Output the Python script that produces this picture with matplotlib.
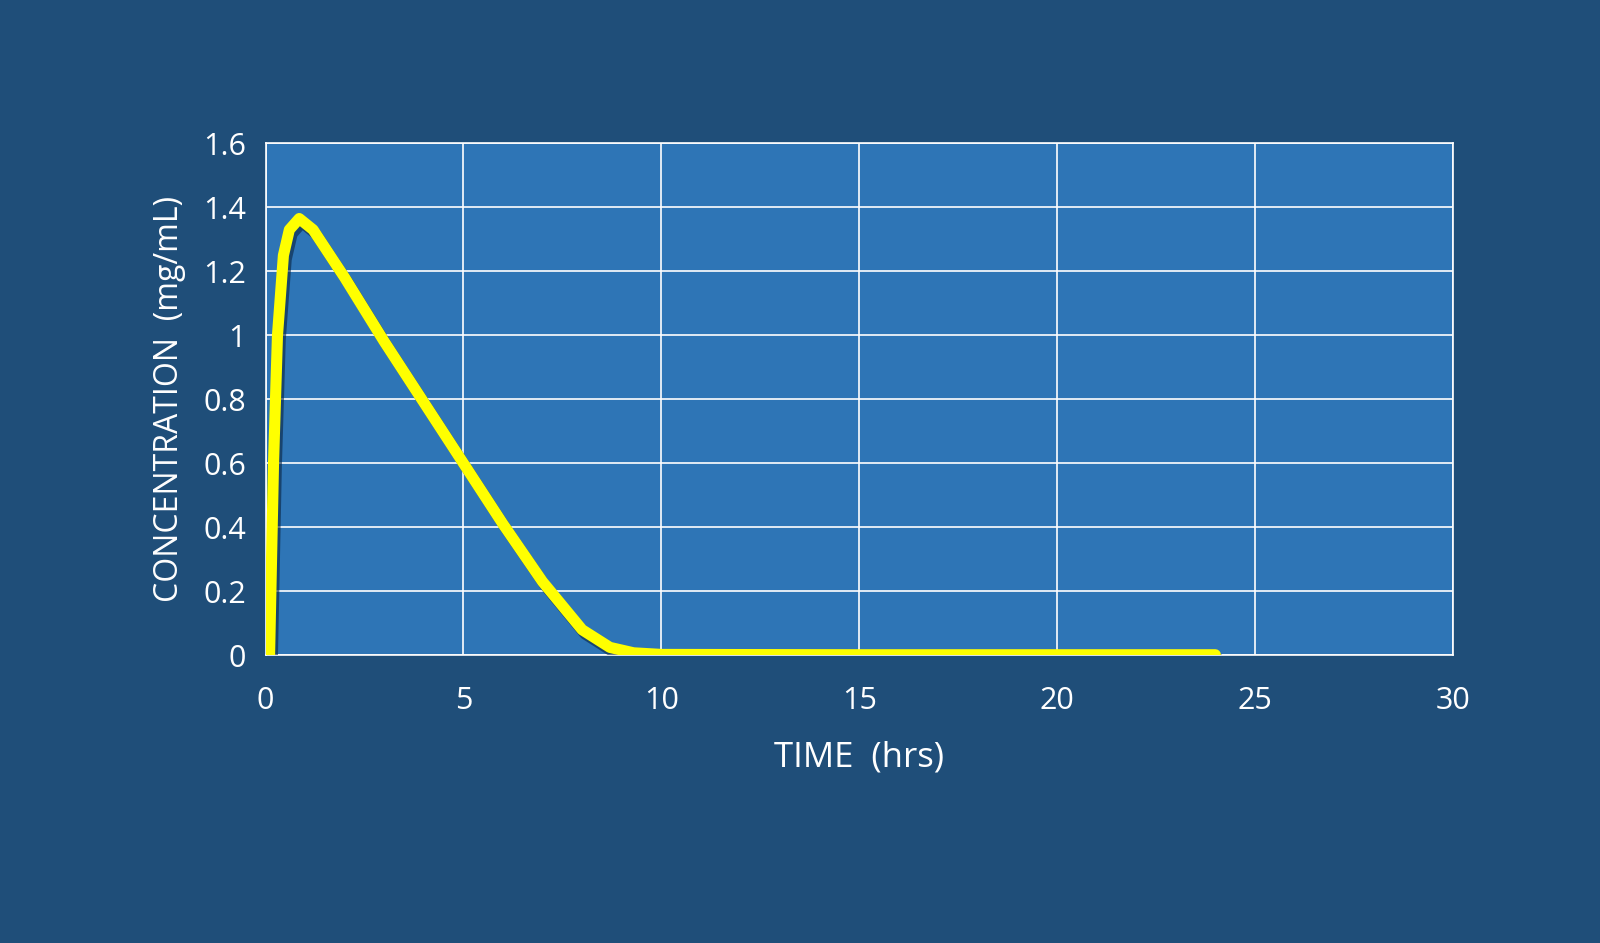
import matplotlib
matplotlib.use("Agg")
import matplotlib.pyplot as plt
import matplotlib.patheffects as pe

# concentration curve
time_hrs = [0.1, 0.2, 0.3, 0.45, 0.6, 0.85, 1.2, 2, 3, 4, 5, 6, 7, 8, 8.7, 9.3, 10, 15, 20, 24]
conc = [0, 0.6, 1.0, 1.25, 1.33, 1.365, 1.33, 1.18, 0.98, 0.79, 0.6, 0.41, 0.23, 0.08,
        0.025, 0.008, 0.003, 0.002, 0.002, 0.002]
x_ticks = [0, 5, 10, 15, 20, 25, 30]
y_ticks = [0, 0.2, 0.4, 0.6, 0.8, 1, 1.2, 1.4, 1.6]
y_labels = ["0", "0.2", "0.4", "0.6", "0.8", "1", "1.2", "1.4", "1.6"]

plt.rcParams['font.family'] = ['Open Sans', 'DejaVu Sans']

fig = plt.figure(figsize=(16, 9.43), dpi=100)
fig.patch.set_facecolor('#1f4e79')
ax = fig.add_axes([0.166, 0.305, 0.742, 0.543])
ax.set_facecolor('#2e75b6')

ax.plot(time_hrs, conc, color='#ffff00', lw=8, solid_capstyle='round', zorder=3,
        path_effects=[pe.SimpleLineShadow(offset=(2, -3), shadow_color='#0a2440', alpha=0.6),
                      pe.Normal()])

ax.set_xlim(0, 30)
ax.set_ylim(0, 1.6)
ax.set_xticks(x_ticks)
ax.set_yticks(y_ticks)
ax.set_yticklabels(y_labels)
ax.grid(True, color='white', lw=1.2)
ax.set_axisbelow(True)
for s in ax.spines.values():
    s.set_color('white')
    s.set_linewidth(1.2)
ax.tick_params(length=0, colors='white', labelsize=22)
ax.tick_params(axis='x', pad=22)
ax.tick_params(axis='y', pad=14)

ax.set_xlabel('TIME  (hrs)', color='white', fontsize=25, labelpad=18)
ax.set_ylabel('CONCENTRATION  (mg/mL)', color='white', fontsize=23, labelpad=12)

fig.savefig('out.png', facecolor=fig.get_facecolor())
